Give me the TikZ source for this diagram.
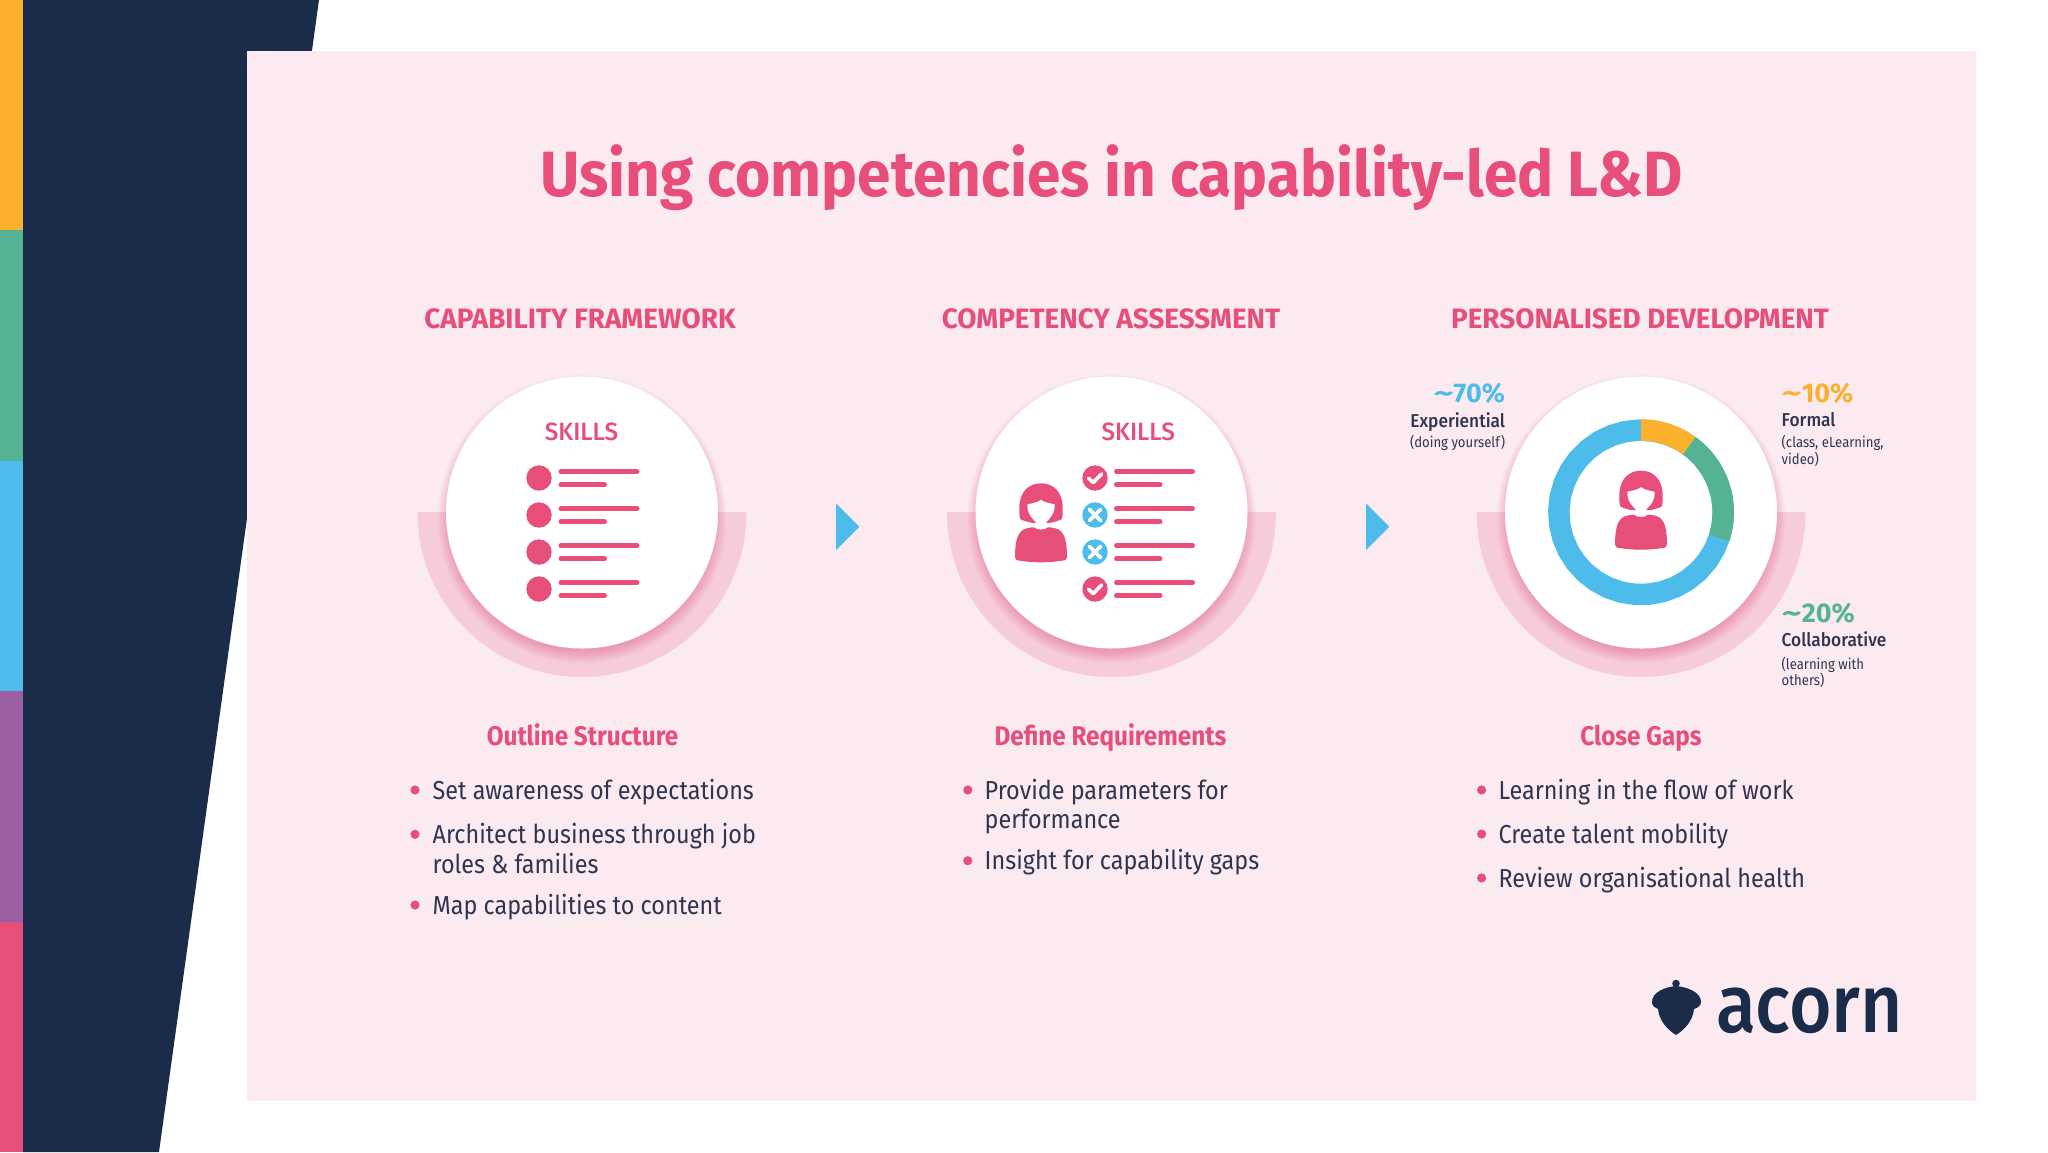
\documentclass[tikz,border=0pt]{standalone}
\usepackage{fontspec}
\setmainfont{Fira Sans}[FakeStretch=0.9]
\newfontfamily\titlefont{Fira Sans}[FakeStretch=0.943]
\newfontfamily\headfont{Fira Sans}[FakeStretch=0.995]
\newfontfamily\pctfont{Fira Sans}[FakeStretch=1.0]
\newfontfamily\medfont{Fira Sans Medium}[FakeStretch=0.97]
\newfontfamily\namefont{Fira Sans Medium}[FakeStretch=0.93]
\newfontfamily\logofont{Fira Sans Medium}[FakeStretch=0.89]
\definecolor{cpink}{HTML}{E84E7A}
\definecolor{cbg}{HTML}{FBEBF1}
\definecolor{cring}{HTML}{F7CCDA}
\definecolor{cblue}{HTML}{4DBCEB}
\definecolor{corange}{HTML}{FBB02E}
\definecolor{cgreen}{HTML}{55B394}
\definecolor{cpurple}{HTML}{9D5FA3}
\definecolor{cnavy}{HTML}{1A2C49}
\definecolor{ctext}{HTML}{2F3550}
\newcommand{\fs}[1]{\fontsize{#1}{#1}\selectfont}
\newcommand{\wtilde}{\scalebox{1.45}[1]{\textasciitilde}}
\tikzset{
  x=0.5pt,y=-0.5pt,
  txt/.style={inner sep=0pt,outer sep=0pt},
  titletxt/.style={txt,anchor=base,text=cpink,font=\titlefont\fs{32}\bfseries},
  headtxt/.style={txt,anchor=base,text=cpink,font=\headfont\fs{14}\bfseries},
  subtxt/.style={txt,anchor=base,text=cpink,font=\fs{13.5}\bfseries},
  skilltxt/.style={txt,anchor=base,text=cpink,font=\medfont\fs{12.5}},
  bodytxt/.style={txt,anchor=base west,text=ctext,font=\fs{13}},
  pctl/.style={txt,anchor=base east,font=\pctfont\fs{13.5}\bfseries},
  pctr/.style={txt,anchor=base west,font=\pctfont\fs{13.5}\bfseries},
  namel/.style={txt,anchor=base east,text=ctext,font=\namefont\fs{9.3}},
  namer/.style={txt,anchor=base west,text=ctext,font=\namefont\fs{9.3}},
  notel/.style={txt,anchor=base east,text=ctext,font=\fs{7.3}},
  noter/.style={txt,anchor=base west,text=ctext,font=\fs{7.3}},
  dot/.style={fill=cpink},
  barline/.style={cpink,line width=2.5pt,line cap=round},
  markline/.style={white,line width=1.8pt,line cap=round,line join=round},
  arrowtri/.style={fill=cblue}
}
% #1 centre x
\newcommand{\medallion}[1]{%
  \begin{scope}
    \clip (#1-170,512.5) rectangle (#1+170,690);
    \fill[cring] (#1,512.5) circle (164.5);
  \end{scope}
  \foreach \k in {1,...,14}{
    \fill[cpink,opacity=0.033] (#1,519) circle ({130.5+\k});
  }
  \fill[white] (#1,512.5) circle (136);
}
% #1 x of the line start, #2 y of first line
\newcommand{\bars}[2]{%
  \draw[barline] (#1,#2) -- (#1+76,#2);
  \draw[barline] (#1,#2+13) -- (#1+43.5,#2+13);
}
% #1 centre x, #2 y of hair top
\newcommand{\person}[2]{%
  \begin{scope}[shift={(#1,#2)}]
    \fill[cpink] (-21.7,25) .. controls (-21.7,8) and (-12,0) .. (0,0)
      .. controls (12,0) and (21.7,8) .. (21.7,25)
      .. controls (21.7,30) and (21.7,34) .. (20.5,36)
      .. controls (16,38) and (12,39) .. (9,39.5) -- (-9,39.5)
      .. controls (-12,39) and (-16,38) .. (-20.5,36)
      .. controls (-21.7,34) and (-21.7,30) .. (-21.7,25) -- cycle;
    \fill[white] (-13.5,21) .. controls (-9,20) and (-3,19) .. (0,16.5)
      .. controls (3,19) and (9,20) .. (13.5,21)
      .. controls (14.5,30) and (8,36) .. (6,38)
      .. controls (6,41) and (3,42) .. (0,42)
      .. controls (-3,42) and (-6,41) .. (-6,38)
      .. controls (-8,36) and (-14.5,30) .. (-13.5,21) -- cycle;
    \fill[cpink] (-26,74) .. controls (-26,60) and (-24,52) .. (-20,48)
      .. controls (-17,45) and (-11,44) .. (-7,44)
      .. controls (-5,47) and (5,47) .. (7,44)
      .. controls (11,44) and (17,45) .. (20,48)
      .. controls (24,52) and (26,60) .. (26,74)
      .. controls (26,77) and (24,77) .. (20,77.5)
      .. controls (8,79.5) and (-8,79.5) .. (-20,77.5)
      .. controls (-24,77) and (-26,77) .. (-26,74) -- cycle;
  \end{scope}
}
\newcommand{\okmark}[2]{%
  \fill[cpink] (#1,#2) circle (12.7);
  \draw[markline] (#1-6.5,#2+0.3) -- (#1-1.7,#2+4.5) -- (#1+6.5,#2-4);
}
\newcommand{\nomark}[2]{%
  \fill[cblue] (#1,#2) circle (12.7);
  \draw[markline] (#1-5.5,#2-5.5) -- (#1+5.5,#2+5.5) (#1-5.5,#2+5.5) -- (#1+5.5,#2-5.5);
}
\newcommand{\segment}[3]{%
  \fill[#1] plot[domain=#2:#3,samples=40] ({1641+93*cos(\x)},{512.3-93*sin(\x)})
    -- plot[domain=#3:#2,samples=40] ({1641+71.5*cos(\x)},{512.3-71.5*sin(\x)}) -- cycle;
}
\begin{document}
\begin{tikzpicture}
\useasboundingbox (0,0) rectangle (2048,1152);
\fill[white] (0,0) rectangle (2048,1152);
% left band
\fill[cnavy] (23,0) -- (319,0) -- (159,1152) -- (23,1152) -- cycle;
\fill[corange] (0,0) rectangle (23,230.4);
\fill[cgreen] (0,230.4) rectangle (23,460.8);
\fill[cblue] (0,460.8) rectangle (23,691.2);
\fill[cpurple] (0,691.2) rectangle (23,921.6);
\fill[cpink] (0,921.6) rectangle (23,1152);
% panel
\fill[cbg] (246.5,51) rectangle (1976,1100.5);
\node[titletxt] (title) at (1111.5,196) {Using competencies in capability-led L\&D};
\node[headtxt] (h1) at (580,328.5) {CAPABILITY FRAMEWORK};
\node[headtxt] (h2) at (1111,328.5) {COMPETENCY ASSESSMENT};
\node[headtxt] (h3) at (1640,328.5) {PERSONALISED DEVELOPMENT};
% medallions
\medallion{582}
\medallion{1111.5}
\medallion{1641}
% medallion 1
\node[skilltxt] (s1) at (581.5,440) {SKILLS};
\foreach \yy in {478,515,552,589}{
  \fill[cpink] (539,\yy) circle (12.7);
  \bars{561}{\yy-6.3}
}
% medallion 2
\node[skilltxt] (s2) at (1138.3,440) {SKILLS};
\person{1041}{483.3}
\okmark{1095}{478}
\nomark{1095}{515}
\nomark{1095}{552}
\okmark{1095}{589}
\foreach \yy in {478,515,552,589}{
  \bars{1116.5}{\yy-6.3}
}
% medallion 3
\segment{cblue}{90}{-288}
\segment{corange}{90}{54}
\segment{cgreen}{54}{-18}
\person{1641}{470.7}
% arrows
\fill[arrowtri] (836,503.3) -- (859.3,526.7) -- (836,550) -- cycle;
\fill[arrowtri] (1366,503.3) -- (1389.3,526.7) -- (1366,550) -- cycle;
% share labels
\node[pctl,text=cblue] (p70) at (1505,402.7) {\wtilde 70\%};
\node[namel] (n70) at (1505,427) {Experiential};
\node[notel] (d70) at (1505,447.3) {(doing yourself)};
\node[pctr,text=corange] (p10) at (1781.7,402) {\wtilde 10\%};
\node[namer] (n10) at (1781.7,426) {Formal};
\node[noter] (d10a) at (1781.7,447.3) {(class, eLearning,};
\node[noter] (d10b) at (1781.7,464) {video)};
\node[pctr,text=cgreen] (p20) at (1781.7,622.3) {\wtilde 20\%};
\node[namer] (n20) at (1781.7,646.3) {Collaborative};
\node[noter] (d20a) at (1781.7,669) {(learning with};
\node[noter] (d20b) at (1781.7,685.5) {others)};
% sub heads
\node[subtxt] (o1) at (582.5,745.5) {Outline Structure};
\node[subtxt] (o2) at (1110.5,745.5) {Define Requirements};
\node[subtxt] (o3) at (1641,745.5) {Close Gaps};
% bullets
\foreach \yy in {790,834.3,905}{\fill[dot] (415,\yy) circle (4.6);}
\node[bodytxt] (b11) at (432.7,799) {Set awareness of expectations};
\node[bodytxt] (b12) at (432.7,843.3) {Architect business through job};
\node[bodytxt] (b13) at (432.7,873.7) {roles \& families};
\node[bodytxt] (b14) at (432.7,914) {Map capabilities to content};
\foreach \yy in {790,860.7}{\fill[dot] (967.8,\yy) circle (4.6);}
\node[bodytxt] (b21) at (984.7,799) {Provide parameters for};
\node[bodytxt] (b22) at (984.7,828.8) {performance};
\node[bodytxt] (b23) at (984.7,869.3) {Insight for capability gaps};
\foreach \yy in {790,834,878}{\fill[dot] (1481.6,\yy) circle (4.6);}
\node[bodytxt] (b31) at (1498.6,799) {Learning in the flow of work};
\node[bodytxt] (b32) at (1498.6,843) {Create talent mobility};
\node[bodytxt] (b33) at (1498.6,887) {Review organisational health};
% logo
\fill[cnavy] (1676,983.5) circle (3.8);
\fill[cnavy] (1676,986) .. controls (1665,987) and (1652,992) .. (1652,1002)
  .. controls (1652,1006) and (1655,1008) .. (1658,1009)
  .. controls (1659,1021) and (1668,1030) .. (1676,1035)
  .. controls (1684,1030) and (1693,1021) .. (1694,1009)
  .. controls (1697,1008) and (1701,1006) .. (1701,1002)
  .. controls (1701,992) and (1687,987) .. (1676,986) -- cycle;
\node[txt,anchor=base west,text=cnavy,font=\logofont\fs{41}] (logo) at (1716,1032) {acorn};
\end{tikzpicture}
\end{document}
